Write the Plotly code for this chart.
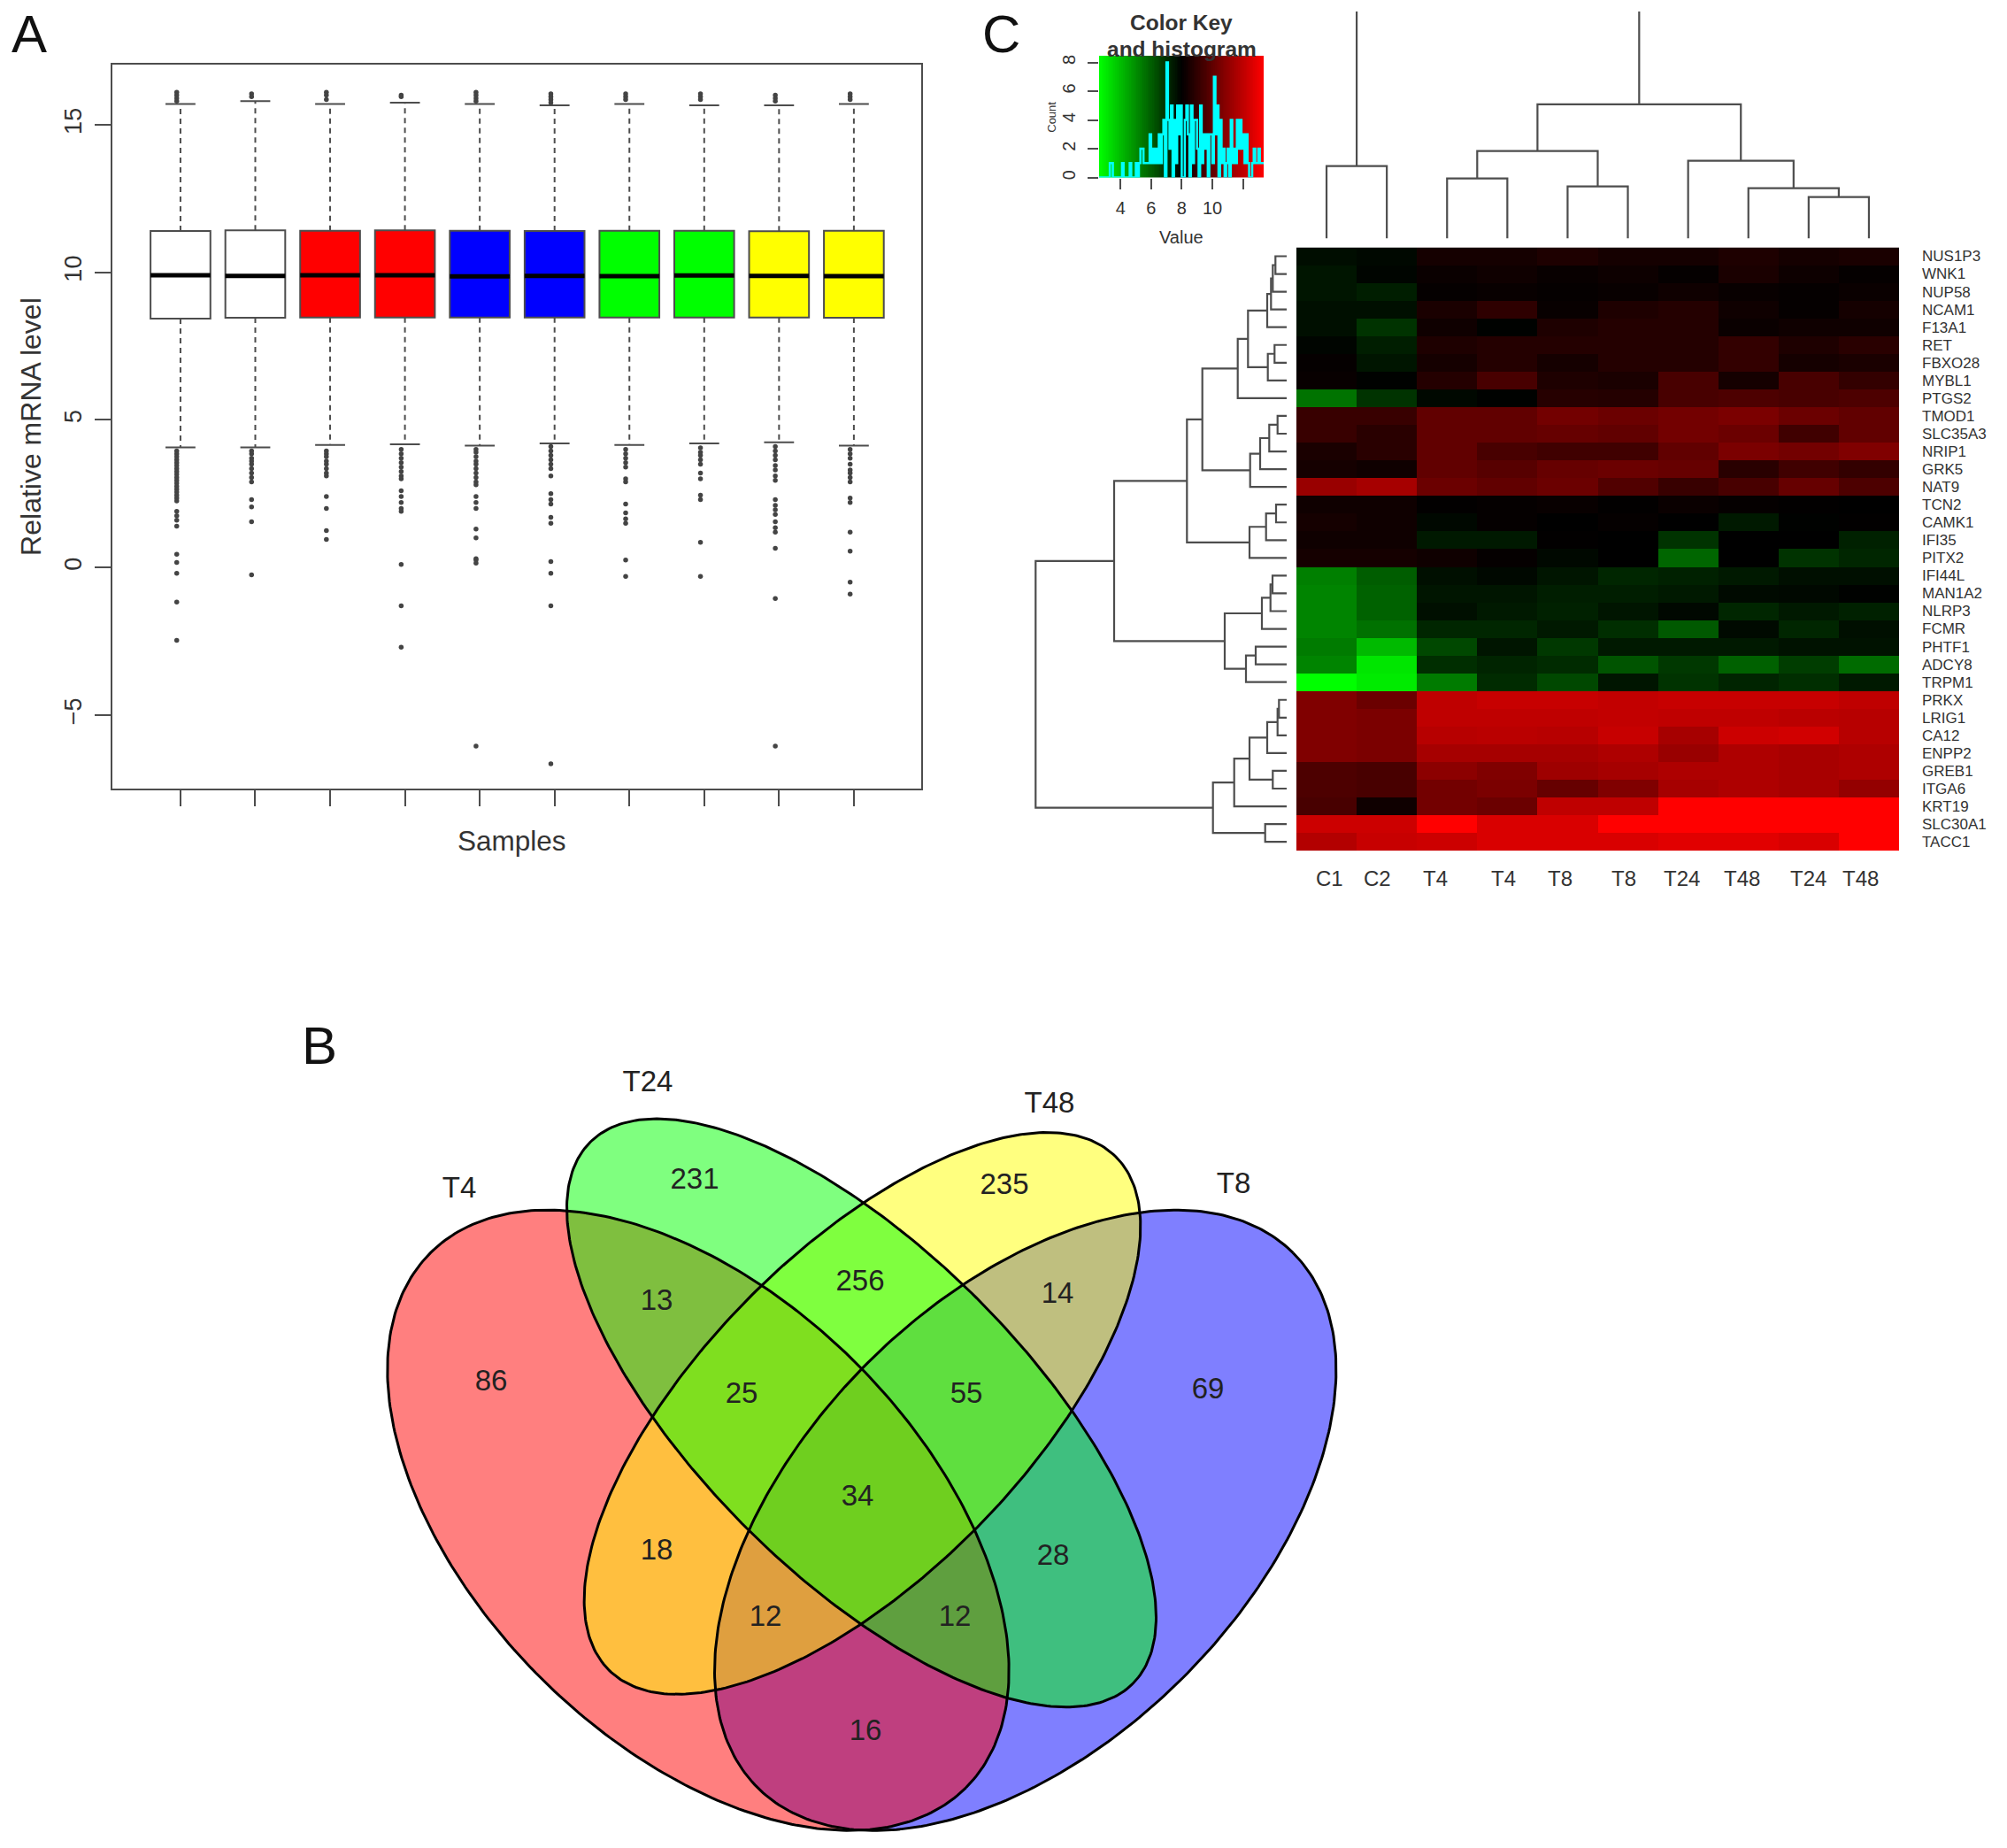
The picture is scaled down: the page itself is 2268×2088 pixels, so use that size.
import numpy as np
import plotly.graph_objects as go

W, H = 2268, 2088

# ---------- Panel A: box plot ----------
samples = list(range(1, 11))
box_groups = [("#FFFFFF", [1, 2]), ("#FF0000", [3, 4]), ("#0000FF", [5, 6]), ("#00FF00", [7, 8]), ("#FFFF00", [9, 10])]
box_q1 = [8.43, 8.46, 8.47, 8.47, 8.47, 8.47, 8.47, 8.47, 8.47, 8.46]
box_median = [9.9, 9.88, 9.9, 9.9, 9.86, 9.88, 9.87, 9.89, 9.88, 9.87]
box_q3 = [11.4, 11.42, 11.41, 11.42, 11.41, 11.4, 11.41, 11.41, 11.39, 11.41]
whisker_low = [4.07, 4.07, 4.15, 4.17, 4.13, 4.2, 4.15, 4.2, 4.24, 4.13]
whisker_high = [15.7, 15.8, 15.7, 15.75, 15.7, 15.66, 15.7, 15.66, 15.66, 15.7]
outliers = [
    [16.1, 16.0, 15.9, 15.8, 3.95, 3.85, 3.75, 3.65, 3.55, 3.45, 3.35, 3.25, 3.15, 3.05, 2.95, 2.85, 2.75, 2.65, 2.55, 2.45, 2.35, 2.25, 1.9, 1.75, 1.6, 1.4, 0.45, 0.17, -0.2, -1.17, -2.47],
    [16.05, 15.95, 3.95, 3.85, 3.7, 3.6, 3.5, 3.35, 3.2, 3.05, 2.9, 2.3, 2.05, 1.55, -0.25],
    [16.1, 16.0, 15.85, 3.95, 3.85, 3.75, 3.6, 3.5, 3.35, 3.2, 3.1, 2.4, 2.0, 1.25, 0.95],
    [16.0, 15.95, 4.0, 3.85, 3.7, 3.55, 3.4, 3.25, 3.1, 3.0, 2.6, 2.4, 2.2, 2.0, 1.9, 0.1, -1.3, -2.7],
    [16.1, 16.0, 15.9, 15.8, 4.0, 3.9, 3.75, 3.6, 3.5, 3.35, 3.2, 3.05, 2.9, 2.8, 2.4, 2.2, 2.0, 1.3, 1.0, 0.3, 0.25, 0.15, -6.05],
    [16.05, 15.95, 15.85, 15.75, 4.1, 3.95, 3.8, 3.65, 3.5, 3.35, 3.1, 2.5, 2.3, 2.15, 1.7, 1.5, 0.2, -0.2, -1.3, -6.65],
    [16.05, 15.95, 15.85, 4.0, 3.85, 3.7, 3.55, 3.4, 3.0, 2.9, 2.15, 1.85, 1.65, 1.5, 0.25, -0.3],
    [16.05, 15.95, 15.85, 4.05, 3.9, 3.8, 3.65, 3.5, 3.2, 3.0, 2.45, 2.3, 0.85, -0.3],
    [16.0, 15.9, 15.8, 4.1, 3.95, 3.8, 3.65, 3.45, 3.3, 3.1, 2.95, 2.3, 2.1, 1.95, 1.8, 1.55, 1.35, 1.2, 0.65, -1.05, -6.05],
    [16.05, 15.95, 15.85, 4.0, 3.85, 3.7, 3.5, 3.3, 3.2, 3.05, 2.9, 2.35, 2.2, 1.2, 0.55, -0.5, -0.9],
]
y_ticks_A = [-5, 0, 5, 10, 15]
y_ticktext_A = ["\u22125", "0", "5", "10", "15"]

# ---------- Panel C: heat map ----------
gene_labels = ["NUS1P3", "WNK1", "NUP58", "NCAM1", "F13A1", "RET", "FBXO28", "MYBL1", "PTGS2", "TMOD1", "SLC35A3", "NRIP1",
               "GRK5", "NAT9", "TCN2", "CAMK1", "IFI35", "PITX2", "IFI44L", "MAN1A2", "NLRP3", "FCMR", "PHTF1", "ADCY8",
               "TRPM1", "PRKX", "LRIG1", "CA12", "ENPP2", "GREB1", "ITGA6", "KRT19", "SLC30A1", "TACC1"]
sample_labels = ["C1", "C2", "T4", "T4", "T8", "T8", "T24", "T48", "T24", "T48"]
heat_values = [
    [7.74, 7.84, 8.42, 8.42, 8.62, 8.42, 8.42, 8.62, 8.42, 8.52],
    [7.58, 7.90, 8.21, 8.31, 8.16, 8.26, 8.10, 8.52, 8.26, 8.10],
    [7.58, 7.38, 8.10, 8.16, 8.10, 8.16, 8.31, 8.16, 8.10, 8.21],
    [7.69, 7.69, 8.52, 8.94, 8.16, 8.62, 8.73, 8.31, 8.10, 8.42],
    [7.69, 6.96, 8.31, 7.95, 8.62, 8.73, 8.73, 8.21, 8.31, 8.31],
    [7.90, 7.38, 8.62, 8.73, 8.73, 8.73, 8.73, 9.04, 8.62, 8.83],
    [8.10, 7.58, 8.42, 8.73, 8.42, 8.73, 8.73, 9.04, 8.42, 8.52],
    [8.16, 7.95, 8.73, 9.46, 8.62, 8.52, 9.46, 8.42, 9.46, 9.04],
    [5.66, 6.96, 7.84, 7.95, 8.78, 8.73, 9.46, 9.56, 9.46, 9.56],
    [9.14, 9.14, 9.98, 9.98, 10.34, 10.18, 10.34, 10.50, 10.18, 9.98],
    [9.14, 8.83, 9.98, 9.98, 10.08, 9.98, 10.34, 10.18, 9.30, 9.98],
    [8.52, 8.83, 9.98, 9.46, 9.30, 9.30, 9.98, 10.50, 10.34, 10.60],
    [8.42, 8.31, 9.98, 9.77, 10.08, 10.18, 10.08, 8.83, 9.30, 9.04],
    [11.12, 11.38, 10.18, 9.98, 10.18, 9.66, 9.14, 9.46, 10.08, 9.56],
    [8.31, 8.31, 8.05, 8.10, 8.16, 8.05, 8.21, 8.10, 8.05, 8.00],
    [8.42, 8.31, 7.84, 8.10, 8.00, 8.10, 8.00, 7.48, 7.95, 8.05],
    [8.31, 8.31, 7.48, 7.48, 8.05, 8.00, 6.96, 8.00, 8.00, 7.32],
    [8.42, 8.42, 8.31, 8.10, 7.84, 8.00, 5.92, 8.00, 6.96, 7.22],
    [5.40, 6.10, 7.69, 7.84, 7.58, 7.22, 7.32, 7.48, 7.69, 7.69],
    [5.30, 6.00, 7.58, 7.58, 7.38, 7.38, 7.48, 7.79, 7.84, 7.95],
    [5.30, 6.00, 7.69, 7.48, 7.32, 7.58, 7.84, 7.22, 7.48, 7.32],
    [5.30, 5.70, 7.22, 7.22, 7.48, 7.06, 6.18, 7.79, 7.22, 7.69],
    [5.50, 4.20, 6.54, 7.58, 6.86, 7.48, 7.48, 7.48, 7.64, 7.64],
    [5.30, 3.30, 7.06, 7.27, 7.12, 6.28, 6.86, 6.02, 6.75, 5.82],
    [2.80, 3.20, 5.50, 7.12, 6.54, 7.58, 6.96, 7.27, 7.06, 7.48],
    [10.60, 10.18, 11.90, 12.06, 12.06, 11.95, 12.06, 12.06, 12.06, 11.90],
    [10.60, 10.50, 11.90, 11.90, 11.90, 11.95, 11.90, 11.90, 11.80, 11.74],
    [10.60, 10.50, 11.74, 11.80, 11.74, 12.06, 11.38, 12.16, 12.26, 11.74],
    [10.60, 10.50, 11.38, 11.38, 11.38, 11.54, 11.12, 11.54, 11.43, 11.54],
    [9.56, 9.46, 10.86, 10.60, 11.22, 11.38, 11.54, 11.54, 11.43, 11.54],
    [9.56, 9.46, 10.34, 10.50, 10.08, 10.60, 11.38, 11.54, 11.43, 11.02],
    [9.46, 8.31, 10.34, 10.18, 11.90, 11.90, 13.20, 13.20, 13.20, 13.20],
    [12.16, 12.16, 13.20, 12.42, 12.42, 13.20, 13.20, 13.20, 13.20, 13.20],
    [11.64, 12.06, 12.16, 12.42, 12.42, 12.42, 12.58, 12.58, 12.42, 13.20],
]
heat_colorscale = [[0, "#00FF00"], [0.5, "#000000"], [1, "#FF0000"]]

# colour-key histogram: counts in bins of 0.1 starting at 2.6
hist_start = 2.6
hist_width = 0.1
hist_counts = [0, 0, 0, 0, 0, 0, 0, 1, 1, 0, 0, 0, 0, 0, 0, 1, 0, 0, 0, 0, 1, 0, 0, 0, 1, 0, 1, 2, 2, 1, 1, 1, 1, 3, 1, 2, 1, 2, 1, 3,
               1, 3, 4, 0, 8, 4, 2, 5, 0, 4, 1, 5, 3, 5, 0, 0, 4, 5, 3, 0, 5, 1, 4, 4, 2, 0, 5, 1, 3, 2, 3, 0, 3, 3, 1, 7, 3, 5, 0, 4,
               1, 2, 0, 1, 2, 0, 4, 1, 2, 1, 4, 2, 4, 2, 3, 1, 3, 1, 0, 0, 1, 2, 1, 1, 2, 1, 1, 1]

# dendrograms: each merge is (left child, right child, height);
# positive child = leaf number, negative child = -(merge number, 1-based)
col_merges = [(1, 2, 82), (3, 4, 68), (5, 6, 59), (-2, -3, 99), (9, 10, 47), (8, -5, 57), (7, -6, 88), (-4, -7, 152)]
col_stem_merges = [1, 8]
col_stem_top = 257
row_merges = [
    (1, 2, 12.7), (-1, 3, 15.7), (-2, 4, 17.7), (-3, 5, 22), (6, 7, 13.7), (-5, 8, 21.3), (-4, -6, 43.7), (-7, 9, 55.3),
    (10, 11, 10.3), (-9, 12, 19.7), (-10, 13, 30), (-11, 14, 41.3), (-8, -12, 95.3),
    (15, 16, 12), (-14, 17, 23.3), (-15, 18, 42), (-13, -16, 112.7),
    (19, 20, 16), (-18, 21, 18.3), (-19, 22, 28), (23, 24, 35), (-21, 25, 46), (-20, -22, 70), (-17, -23, 195),
    (26, 27, 8.7), (-25, 28, 10.3), (-26, 29, 22), (30, 31, 15.7), (-27, -28, 42), (-29, 32, 59.3), (33, 34, 24.3),
    (-30, -31, 83.3), (-24, -32, 283.7),
]

# ---------- Panel B: Venn ----------
venn_sets = ["T8", "T4", "T48", "T24"]
venn_colors = ["rgba(0,0,255,0.5)", "rgba(255,0,0,0.5)", "rgba(255,255,0,0.5)", "rgba(0,255,0,0.5)"]
ellipse_cx = [1158.7, 789, 974.5, 973.5]
ellipse_cy = [1720, 1720, 1599, 1598.5]
ellipse_a = [428, 428, 408, 433.5]
ellipse_b = [252, 252, 183, 184]
ellipse_deg = [-45, 45, -45.5, 45]
venn_counts = ["231", "235", "86", "13", "256", "14", "69", "25", "55", "34", "18", "28", "12", "12", "16"]
venn_count_x = [785, 1135, 555, 742, 972, 1195, 1365, 838, 1092, 969, 742, 1190, 865, 1079, 978]
venn_count_y = [1336, 1342, 1565, 1474, 1452, 1466, 1574, 1579, 1579, 1695, 1756, 1762, 1831, 1831, 1961]
venn_name_x = [519, 732, 1186, 1394]
venn_name_y = [1346, 1226, 1250, 1341]
venn_names = ["T4", "T24", "T48", "T8"]

# label placements
panel_letters = [("A", 33, 38), ("B", 361, 1183), ("C", 1131, 38)]
sample_label_x = [1502, 1556, 1622, 1699, 1763, 1835, 1900, 1968, 2043, 2102]
sample_label_y = 993
GRAY = "#4d4d4d"
TXT = "#333333"
FONT = "Liberation Sans"


def dom_x(a, b):
    return [a / W, b / W]


def dom_y(top, bottom):
    return [1 - bottom / H, 1 - top / H]


def label(text, x, y, size, color=TXT, angle=0):
    return dict(text=text, x=x / W, y=1 - y / H, xref="paper", yref="paper", xanchor="center", yanchor="middle",
                showarrow=False, textangle=angle, font=dict(family=FONT, size=size, color=color))


def tree_lines(merges, stems=(), stem_top=None):
    pos, hgt, u, v = {}, {}, [], []
    def child(c):
        return (c, 0.0) if c > 0 else (pos[-c], hgt[-c])
    for i, (l, r, h) in enumerate(merges, start=1):
        pl, hl = child(l)
        pr, hr = child(r)
        u += [pl, pl, pr, pr, None]
        v += [hl, h, h, hr, None]
        pos[i], hgt[i] = (pl + pr) / 2, h
    for m in stems:
        u += [pos[m], pos[m], None]
        v += [hgt[m], stem_top, None]
    return u, v


fig = go.Figure()

# --- Panel A traces
for col, members in box_groups:
    idx = [m - 1 for m in members]
    fig.add_trace(go.Box(x=members, q1=[box_q1[i] for i in idx], median=[box_median[i] for i in idx],
                         q3=[box_q3[i] for i in idx], lowerfence=[box_q1[i] for i in idx],
                         upperfence=[box_q3[i] for i in idx], width=0.8, fillcolor=col, boxpoints=False,
                         line=dict(color=GRAY, width=2), xaxis="x", yaxis="y", showlegend=False))
wu, wv, cu, cv, mu, mv = [], [], [], [], [], []
for i, s in enumerate(samples):
    wu += [s, s, None, s, s, None]
    wv += [box_q3[i], whisker_high[i], None, box_q1[i], whisker_low[i], None]
    cu += [s - 0.2, s + 0.2, None, s - 0.2, s + 0.2, None]
    cv += [whisker_high[i], whisker_high[i], None, whisker_low[i], whisker_low[i], None]
    mu += [s - 0.4, s + 0.4, None]
    mv += [box_median[i], box_median[i], None]
fig.add_trace(go.Scatter(x=wu, y=wv, mode="lines", line=dict(color=GRAY, width=2, dash="6px,5px"), xaxis="x", yaxis="y", showlegend=False))
fig.add_trace(go.Scatter(x=cu, y=cv, mode="lines", line=dict(color=GRAY, width=2), xaxis="x", yaxis="y", showlegend=False))
fig.add_trace(go.Scatter(x=mu, y=mv, mode="lines", line=dict(color="#000000", width=5), xaxis="x", yaxis="y", showlegend=False))
ox, oy = [], []
for s, vals in zip(samples, outliers):
    ox += [s - 0.05] * len(vals)
    oy += vals
fig.add_trace(go.Scatter(x=ox, y=oy, mode="markers", marker=dict(color="#444444", size=5.5), xaxis="x", yaxis="y", showlegend=False))

# --- Panel C traces
fig.add_trace(go.Heatmap(z=heat_values, x=list(range(1, 11)), y=gene_labels, colorscale=heat_colorscale, zmin=2.8, zmax=13.2,
                         showscale=False, xaxis="x2", yaxis="y2"))
hist_x = hist_start + hist_width * np.arange(len(hist_counts) + 1)
key_levels = hist_x.tolist()
fig.add_trace(go.Heatmap(z=[key_levels, key_levels], x=key_levels, y=[0, 8.47], colorscale=heat_colorscale, zmin=2.6, zmax=13.35,
                         showscale=False, xaxis="x3", yaxis="y3"))
fig.add_trace(go.Scatter(x=hist_x.tolist(), y=hist_counts + [hist_counts[-1]], mode="lines", line=dict(color="#00FFFF", width=2.5, shape="hv"),
                         xaxis="x3", yaxis="y3", showlegend=False))
u, v = tree_lines(col_merges, col_stem_merges, col_stem_top)
fig.add_trace(go.Scatter(x=u, y=v, mode="lines", line=dict(color=GRAY, width=2.2), xaxis="x4", yaxis="y4", showlegend=False))
u, v = tree_lines(row_merges)
fig.add_trace(go.Scatter(x=v, y=u, mode="lines", line=dict(color=GRAY, width=2.2), xaxis="x5", yaxis="y5", showlegend=False))

# --- Panel B traces
theta = np.linspace(0, 2 * np.pi, 361)
outlines = []
for i in range(4):
    t = np.radians(ellipse_deg[i])
    ex = ellipse_cx[i] + ellipse_a[i] * np.cos(theta) * np.cos(t) - ellipse_b[i] * np.sin(theta) * np.sin(t)
    ey = ellipse_cy[i] + ellipse_a[i] * np.cos(theta) * np.sin(t) + ellipse_b[i] * np.sin(theta) * np.cos(t)
    outlines.append((ex, ey))
    fig.add_trace(go.Scatter(x=ex, y=ey, mode="lines", fill="toself", fillcolor=venn_colors[i], line=dict(width=0),
                             name=venn_sets[i], xaxis="x6", yaxis="y6", showlegend=False))
for ex, ey in outlines:
    fig.add_trace(go.Scatter(x=ex, y=ey, mode="lines", line=dict(color="#000000", width=3), xaxis="x6", yaxis="y6", showlegend=False))
fig.add_trace(go.Scatter(x=venn_count_x, y=venn_count_y, mode="text", text=venn_counts, textfont=dict(family=FONT, size=33, color="#222222"),
                         xaxis="x6", yaxis="y6", showlegend=False))
fig.add_trace(go.Scatter(x=venn_name_x, y=venn_name_y, mode="text", text=venn_names, textfont=dict(family=FONT, size=33, color="#222222"),
                         xaxis="x6", yaxis="y6", showlegend=False))

# --- Annotations
ann = [label(t, x, y, 60, "#111111") for t, x, y in panel_letters]
ann += [label(t, x, sample_label_y, 24) for t, x in zip(sample_labels, sample_label_x)]
ann.append(label("<b>Color Key</b>", 1335, 25, 24.5))
ann.append(label("<b>and histogram</b>", 1335, 55, 24.5))
ann.append(label("Value", 1335, 268, 20))
ann.append(label("Count", 1189, 132, 13, angle=-90))
ann.append(label("Samples", 578, 951, 31.5))

hidden = dict(visible=False, showgrid=False, zeroline=False)
fig.update_layout(
    width=W, height=H, margin=dict(l=0, r=0, t=0, b=0), paper_bgcolor="white", plot_bgcolor="rgba(0,0,0,0)", showlegend=False,
    annotations=ann,
    xaxis=dict(domain=dom_x(127, 1041), range=[0.09, 10.9], showgrid=False, zeroline=False, showline=True, mirror=True, linecolor=GRAY, linewidth=2,
               tickmode="array", tickvals=samples, ticktext=[""] * 10, ticks="outside", ticklen=18, tickcolor=GRAY, tickwidth=2),
    yaxis=dict(domain=dom_y(72, 892), range=[-7.5, 17.04], showgrid=False, zeroline=False, showline=True, mirror=True, linecolor=GRAY, linewidth=2,
               tickmode="array", tickvals=y_ticks_A, ticktext=y_ticktext_A, ticks="outside", ticklen=18, tickcolor=GRAY, tickwidth=2,
               tickangle=-90, tickfont=dict(family=FONT, size=27, color=TXT), ticklabelstandoff=4,
               title=dict(text="Relative mRNA level", font=dict(family=FONT, size=32, color=TXT), standoff=12)),
    xaxis2=dict(domain=dom_x(1465, 2146), range=[0.5, 10.5], showticklabels=False, ticks="", showgrid=False, zeroline=False),
    yaxis2=dict(domain=dom_y(279, 962), autorange="reversed", side="right", anchor="x2", ticks="", showgrid=False, zeroline=False,
                tickfont=dict(family=FONT, size=17, color=TXT), ticklabelstandoff=25, dtick=1),
    xaxis3=dict(domain=dom_x(1242, 1428), range=[2.6, 13.35], anchor="y3", showgrid=False, zeroline=False, tickmode="array",
                tickvals=[4, 6, 8, 10, 12], ticktext=["4", "6", "8", "10", ""], ticks="outside", ticklen=12, tickcolor=GRAY, tickwidth=2,
                tickfont=dict(family=FONT, size=20, color=TXT), ticklabelstandoff=4),
    yaxis3=dict(domain=dom_y(62, 200), range=[0, 8.47], anchor="x3", showgrid=False, zeroline=False, tickmode="array", tickvals=[0, 2, 4, 6, 8],
                ticks="outside", ticklen=12, tickcolor=GRAY, tickwidth=2, tickangle=-90, tickfont=dict(family=FONT, size=20, color=TXT), ticklabelstandoff=6),
    xaxis4=dict(domain=dom_x(1465, 2146), range=[0.5, 10.5], anchor="y4", **hidden),
    yaxis4=dict(domain=dom_y(12, 269), range=[0, 257], anchor="x4", **hidden),
    xaxis5=dict(domain=dom_x(1150, 1454), range=[304, 0], anchor="y5", **hidden),
    yaxis5=dict(domain=dom_y(279, 962), range=[34.5, 0.5], anchor="x5", **hidden),
    xaxis6=dict(domain=[0, 1], range=[0, W], anchor="y6", **hidden),
    yaxis6=dict(domain=[0, 1], range=[H, 0], anchor="x6", **hidden),
)
fig.write_html("out.html", config={"displayModeBar": False}, post_script="document.body.style.margin='0';")
